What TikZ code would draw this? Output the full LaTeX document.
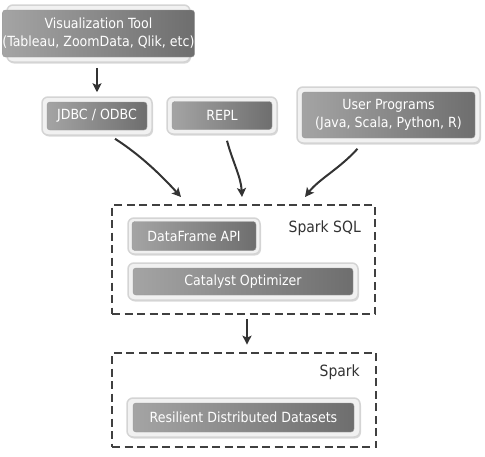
\documentclass[tikz,border=0pt]{standalone}
\usepackage{fontspec}
\setmainfont{DejaVu Sans Condensed}
\usetikzlibrary{arrows.meta,shadows}
\definecolor{innerL}{HTML}{A4A4A4}
\definecolor{innerR}{HTML}{6E6E6E}
\definecolor{frameF}{HTML}{F1F1F1}
\definecolor{frameD}{HTML}{D4D4D4}
\definecolor{lineC}{HTML}{333333}
\definecolor{dashC}{HTML}{404040}
\tikzset{
  frame/.style={draw=frameD, line width=1.5pt, fill=frameF, rounded corners=6pt,
    drop shadow={shadow xshift=1pt, shadow yshift=-1.5pt, opacity=.25, fill=black!60},
    inner sep=0pt},
  inbox/.style={left color=innerL, right color=innerR, draw=innerR!70, line width=0.4pt,
    rounded corners=3pt, text=white, inner sep=0pt, align=center,
    font=\fontsize{14}{18}\selectfont},
  dashbox/.style={draw=dashC, line width=2.7pt, dash pattern=on 8pt off 4.5pt, inner sep=0pt},
  lbl/.style={text=black!80, font=\fontsize{15.5}{18}\selectfont, inner sep=0pt, anchor=east},
  arr/.style={draw=lineC, line width=2pt, -{Stealth[length=9pt,width=9pt,inset=2pt]}},
}
\begin{document}
\begin{tikzpicture}[x=1pt,y=-1pt]
\useasboundingbox (0,0) rectangle (485,456);
% top boxes
\node[frame, minimum width=183, minimum height=57] (vizf) at (98.5,33.5) {};
\node[inbox, minimum width=172, minimum height=47] (viz) at (98.5,33.5) {Visualization Tool\\(Tableau, ZoomData, Qlik, etc)};
\node[frame, minimum width=110, minimum height=38] (jdbcf) at (97,116) {};
\node[inbox, minimum width=100, minimum height=28] (jdbc) at (97,116) {JDBC / ODBC};
\node[frame, minimum width=110, minimum height=37] (replf) at (222,115.5) {};
\node[inbox, minimum width=100, minimum height=28] (repl) at (222,115.5) {REPL};
\node[frame, minimum width=183, minimum height=56] (userf) at (388.5,115) {};
\node[inbox, minimum width=173, minimum height=46] (user) at (388.5,115) {User Programs\\(Java, Scala, Python, R)};
% Spark SQL
\node[dashbox, minimum width=263, minimum height=109] (sql) at (243.5,259.5) {};
\node[lbl] (sqllbl) at (361,228) {Spark SQL};
\node[frame, minimum width=132, minimum height=36] (dff) at (194,236) {};
\node[inbox, minimum width=124, minimum height=29] (df) at (194,236) {DataFrame API};
\node[frame, minimum width=230, minimum height=37] (catf) at (243,281.5) {};
\node[inbox, minimum width=220, minimum height=27] (cat) at (243,281.5) {Catalyst Optimizer};
% Spark
\node[dashbox, minimum width=264, minimum height=94] (spark) at (244,400) {};
\node[lbl] (sparklbl) at (360,372) {Spark};
\node[frame, minimum width=233, minimum height=39] (rddf) at (243.5,417.5) {};
\node[inbox, minimum width=221, minimum height=29] (rdd) at (243.5,417.5) {Resilient Distributed Datasets};
% arrow end points
\coordinate (e1) at (181,197);
\coordinate (e2) at (242,197);
\coordinate (e3) at (305,197);
% connectors
\draw[arr] ([yshift=-5pt]vizf.south -| jdbcf.north) -- ([yshift=4pt]jdbcf.north);
\draw[arr] ([xshift=18pt,yshift=-3pt]jdbcf.south) .. controls +(25,16) and +(-20,-22) .. (e1);
\draw[arr] ([xshift=5pt,yshift=-6pt]replf.south) .. controls +(6,22) and +(-1,-20) .. (e2);
\draw[arr] ([xshift=-31pt,yshift=-5pt]userf.south) .. controls +(-18,20) and +(14,-18) .. (e3);
\draw[arr] ([xshift=3.5pt,yshift=-4pt]sql.south) -- ([xshift=3pt,yshift=7pt]spark.north);
\end{tikzpicture}
\end{document}
